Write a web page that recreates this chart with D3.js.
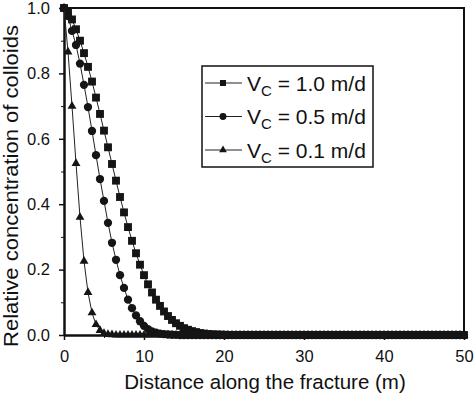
<!DOCTYPE html>
<html>
<head>
<meta charset="utf-8">
<script src="https://cdn.jsdelivr.net/npm/d3@7/dist/d3.min.js"></script>
<style>
	body { margin: 0; background: #fff; }
	svg { font-family: 'Liberation Sans', Arial, sans-serif; }
	.axis path, .axis line { stroke: #111; }
	.axis text { fill: #111; font-size: 16.5px; }
	.series-line { fill: none; stroke: #222; stroke-width: 1; }
</style>
</head>
<body>
<script>
	// distance along the fracture (m)
	var distance = [
		0, 0.5, 1, 1.5, 2, 2.5, 3, 3.5, 4, 4.5,
		5, 5.5, 6, 6.5, 7, 7.5, 8, 8.5, 9, 9.5,
		10, 10.5, 11, 11.5, 12, 12.5, 13, 13.5, 14, 14.5,
		15, 15.5, 16, 16.5, 17, 17.5, 18, 18.5, 19, 19.5,
		20, 20.5, 21, 21.5, 22, 22.5, 23, 23.5, 24, 24.5,
		25, 25.5, 26, 26.5, 27, 27.5, 28, 28.5, 29, 29.5,
		30, 30.5, 31, 31.5, 32, 32.5, 33, 33.5, 34, 34.5,
		35, 35.5, 36, 36.5, 37, 37.5, 38, 38.5, 39, 39.5,
		40, 40.5, 41, 41.5, 42, 42.5, 43, 43.5, 44, 44.5,
		45, 45.5, 46, 46.5, 47, 47.5, 48, 48.5, 49, 49.5,
		50
	];

	// relative concentration, Vc = 1.0 m/d
	var conc10 = [
		1.0, 0.985, 0.965, 0.935, 0.9, 0.862, 0.82, 0.775, 0.726, 0.676,
		0.625, 0.574, 0.523, 0.472, 0.422, 0.375, 0.33, 0.288, 0.25, 0.215,
		0.183, 0.155, 0.13, 0.108, 0.089, 0.072, 0.058, 0.046, 0.036, 0.028,
		0.021, 0.016, 0.012, 0.009, 0.006, 0.0045, 0.003, 0.002, 0.0015, 0.001,
		0.0007, 0, 0, 0, 0, 0, 0, 0, 0, 0,
		0, 0, 0, 0, 0, 0, 0, 0, 0, 0,
		0, 0, 0, 0, 0, 0, 0, 0, 0, 0,
		0, 0, 0, 0, 0, 0, 0, 0, 0, 0,
		0, 0, 0, 0, 0, 0, 0, 0, 0, 0,
		0, 0, 0, 0, 0, 0, 0, 0, 0, 0,
		0
	];

	// relative concentration, Vc = 0.5 m/d
	var conc05 = [
		1.0, 0.975, 0.93, 0.887, 0.83, 0.765, 0.697, 0.624, 0.55, 0.477,
		0.41, 0.343, 0.282, 0.23, 0.183, 0.144, 0.108, 0.082, 0.06, 0.042,
		0.028, 0.018, 0.011, 0.007, 0.004, 0.0025, 0.0015, 0.0008, 0.0004, 0,
		0, 0, 0, 0, 0, 0, 0, 0, 0, 0,
		0, 0, 0, 0, 0, 0, 0, 0, 0, 0,
		0, 0, 0, 0, 0, 0, 0, 0, 0, 0,
		0, 0, 0, 0, 0, 0, 0, 0, 0, 0,
		0, 0, 0, 0, 0, 0, 0, 0, 0, 0,
		0, 0, 0, 0, 0, 0, 0, 0, 0, 0,
		0, 0, 0, 0, 0, 0, 0, 0, 0, 0,
		0
	];

	// relative concentration, Vc = 0.1 m/d
	var conc01 = [
		1.0, 0.866, 0.70, 0.525, 0.36, 0.226, 0.13, 0.068, 0.032, 0.014,
		0.005, 0.002, 0.0008, 0, 0, 0, 0, 0, 0, 0,
		0, 0, 0, 0, 0, 0, 0, 0, 0, 0,
		0, 0, 0, 0, 0, 0, 0, 0, 0, 0,
		0, 0, 0, 0, 0, 0, 0, 0, 0, 0,
		0, 0, 0, 0, 0, 0, 0, 0, 0, 0,
		0, 0, 0, 0, 0, 0, 0, 0, 0, 0,
		0, 0, 0, 0, 0, 0, 0, 0, 0, 0,
		0, 0, 0, 0, 0, 0, 0, 0, 0, 0,
		0, 0, 0, 0, 0, 0, 0, 0, 0, 0,
		0
	];

	var seriesLabels = ['1.0 m/d', '0.5 m/d', '0.1 m/d'];
	var xTicks = [0, 10, 20, 30, 40, 50],
	xMinorTicks = [5, 15, 25, 35, 45],
	yTicks = [0, 0.2, 0.4, 0.6, 0.8, 1.0],
	yMinorTicks = [0.1, 0.3, 0.5, 0.7, 0.9];

	var margin = {top: 8, right: 10, bottom: 63, left: 64},
	width  = 474 - margin.left - margin.right,
	height = 398 - margin.top - margin.bottom;

	var x = d3.scaleLinear().domain([0, 50]).range([0, width]),
	y = d3.scaleLinear().domain([0, 1]).range([height, 0]);

	var series = [
		{label: seriesLabels[0], values: conc10, symbol: d3.symbolSquare, size: 62, legendSize: 36},
		{label: seriesLabels[1], values: conc05, symbol: d3.symbolCircle, size: 54, legendSize: 38},
		{label: seriesLabels[2], values: conc01, symbol: d3.symbolTriangle, size: 34, legendSize: 26}
	];

	var svg = d3.select('body').append('svg')
	.attr('width', 474)
	.attr('height', 398);

	var plot = svg.append('g')
	.attr('transform', 'translate(' + margin.left + ',' + margin.top + ')');

	// frame (top and right)
	plot.append('path')
	.attr('d', 'M0,0H' + width + 'V' + height)
	.attr('fill', 'none')
	.attr('stroke', '#111')
	.attr('stroke-width', 2);

	// minor ticks
	plot.append('g')
	.attr('class', 'axis')
	.attr('transform', 'translate(0,' + height + ')')
	.call(d3.axisBottom(x).tickValues(xMinorTicks).tickSize(3).tickFormat(''))
	.call(function(g) { g.select('.domain').remove(); })
	.attr('font-family', null);

	plot.append('g')
	.attr('class', 'axis')
	.call(d3.axisLeft(y).tickValues(yMinorTicks).tickSize(3).tickFormat(''))
	.call(function(g) { g.select('.domain').remove(); })
	.attr('font-family', null);

	// major axes
	var xAxis = plot.append('g')
	.attr('class', 'axis')
	.attr('transform', 'translate(0,' + height + ')')
	.call(d3.axisBottom(x).tickValues(xTicks).tickSize(5).tickSizeOuter(0).tickPadding(10).tickFormat(d3.format('d')))
	.attr('font-family', null)
	.attr('font-size', null);
	xAxis.select('.domain').attr('stroke-width', 2.5);
	xAxis.selectAll('.tick line').attr('stroke-width', 1.5);

	var yAxis = plot.append('g')
	.attr('class', 'axis')
	.call(d3.axisLeft(y).tickValues(yTicks).tickSize(5).tickSizeOuter(0).tickPadding(9).tickFormat(d3.format('.1f')))
	.attr('font-family', null)
	.attr('font-size', null);
	yAxis.select('.domain').attr('stroke-width', 2.5);
	yAxis.selectAll('.tick line').attr('stroke-width', 1.5);

	// series lines and markers
	var line = d3.line()
	.x(function(d) { return x(d.x); })
	.y(function(d) { return y(d.y); });

	series.forEach(function(s) {
		var pts = distance.map(function(d, i) { return {x: d, y: s.values[i]}; });

		plot.append('path')
		.datum(pts)
		.attr('class', 'series-line')
		.attr('d', line);

		plot.append('g')
		.selectAll('path')
		.data(pts)
		.enter().append('path')
		.attr('transform', function(d) { return 'translate(' + x(d.x) + ',' + y(d.y) + ')'; })
		.attr('d', d3.symbol().type(s.symbol).size(s.size))
		.attr('fill', '#151515');
	});

	// axis titles
	svg.append('text')
	.attr('x', margin.left + width / 2 + 1)
	.attr('y', 389)
	.attr('text-anchor', 'middle')
	.attr('font-size', '20.5px')
	.attr('fill', '#111')
	.text('Distance along the fracture (m)');

	svg.append('text')
	.attr('transform', 'translate(18,186) rotate(-90)')
	.attr('text-anchor', 'middle')
	.attr('font-size', '20px')
	.attr('textLength', 322)
	.attr('lengthAdjust', 'spacingAndGlyphs')
	.attr('fill', '#111')
	.text('Relative concentration of colloids');

	// legend
	var legend = svg.append('g')
	.attr('transform', 'translate(202,66)');

	legend.append('rect')
	.attr('width', 171)
	.attr('height', 101)
	.attr('fill', '#fff')
	.attr('stroke', '#111')
	.attr('stroke-width', 1.5);

	var rows = legend.selectAll('.legend-row')
	.data(series)
	.enter().append('g')
	.attr('class', 'legend-row')
	.attr('transform', function(d, i) { return 'translate(0,' + (17 + i * 33.5) + ')'; });

	rows.append('line')
	.attr('x1', 3)
	.attr('x2', 40)
	.attr('stroke', '#222')
	.attr('stroke-width', 1);

	rows.append('path')
	.attr('transform', 'translate(21,0)')
	.attr('d', function(d) { return d3.symbol().type(d.symbol).size(d.legendSize)(); })
	.attr('fill', '#151515');

	var label = rows.append('text')
	.attr('x', 45)
	.attr('y', 7.5)
	.attr('font-size', '21px')
	.attr('fill', '#111');

	label.append('tspan').text('V');
	label.append('tspan')
	.attr('font-size', '15px')
	.attr('dy', 5)
	.text('C');
	label.append('tspan')
	.attr('dy', -5)
	.text(function(d) { return ' = ' + d.label; });
</script>
</body>
</html>
